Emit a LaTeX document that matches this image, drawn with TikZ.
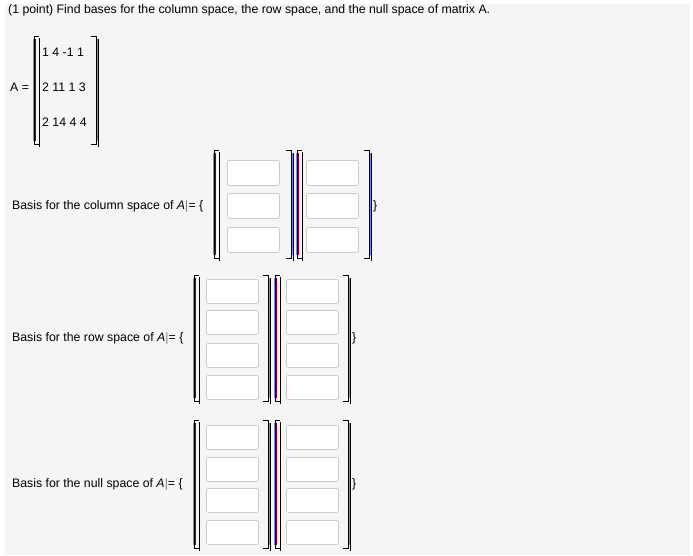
\documentclass[tikz,border=0pt]{standalone}
\usepackage{fontspec}
\setmainfont{Liberation Sans}
\begin{document}
\begin{tikzpicture}[x=1pt,y=-1pt,
  txt/.style={font=\fontsize{12.3}{14}\selectfont,inner sep=0pt,anchor=west},
  ansbox/.style={draw=black!20,fill=white,rounded corners=2pt,line width=0.8pt},
  brk/.style={line width=0.8pt,black}]
\useasboundingbox (0,0) rectangle (693,555);
\fill[white] (0,0) rectangle (693,555);
\fill[black!4] (5,4) rectangle (690,555);
\newcommand{\lbr}[3]{% x, ytop, ybot
  \draw[brk] (#1+5,#2) -- (#1,#2) -- (#1,#3) -- (#1+5,#3);
  \draw[red!50!black,line width=0.4pt] (#1+1,#2+3) -- (#1+1,#3-3);
  \draw[blue!50,line width=0.4pt] (#1-1,#2+3) -- (#1-1,#3-3);
  \draw[black,line width=0.5pt] (#1+5,#2+2) -- (#1+5,#3+3);}
\newcommand{\rbr}[3]{%
  \draw[brk] (#1-5,#2) -- (#1,#2) -- (#1,#3) -- (#1-5,#3);
  \draw[blue!50,line width=0.4pt] (#1+1.2,#2+3) -- (#1+1.2,#3-3);
  \draw[black,line width=0.5pt] (#1+2.5,#2+3) -- (#1+2.5,#3+3);}
\node[txt] (title) at (8,10) {(1 point) Find bases for the column space, the row space, and the null space of matrix A.};
% matrix A
\node[txt] (Aeq) at (10,87) {A =};
\lbr{34}{36}{144}
\rbr{96}{36}{144}
\node[txt] (r1) at (42,52) {1 4 -1 1};
\node[txt] (r2) at (42,87) {2 11 1 3};
\node[txt] (r3) at (42,122) {2 14 4 4};
% column space
\node[txt] (c) at (12,206) {Basis for the column space of \textit{A}$|$= \{};
\lbr{214}{150}{258}\rbr{291}{150}{258}
\lbr{297}{150}{258}\rbr{369}{150}{258}
\node[txt] (cb) at (373,206) {\}};
\foreach \y [count=\i] in {160,193,227}{
  \node[ansbox,minimum width=52,minimum height=25,anchor=north west] (ca\i) at (227,\y) {};
  \node[ansbox,minimum width=52,minimum height=25,anchor=north west] (cb\i) at (306,\y) {};}
% row space
\node[txt] (r) at (12,338) {Basis for the row space of \textit{A}$|$= \{};
\lbr{194}{275}{401}\rbr{268}{275}{401}
\lbr{275}{275}{401}\rbr{348}{275}{401}
\node[txt] (rb) at (352,338) {\}};
\foreach \y [count=\i] in {279,310,343,375}{
  \node[ansbox,minimum width=52,minimum height=24,anchor=north west] (ra\i) at (206,\y) {};
  \node[ansbox,minimum width=52,minimum height=24,anchor=north west] (rb\i) at (286,\y) {};}
% null space
\node[txt] (n) at (12,484) {Basis for the null space of \textit{A}$|$= \{};
\lbr{194}{420}{548}\rbr{268}{420}{548}
\lbr{275}{420}{548}\rbr{348}{420}{548}
\node[txt] (nb) at (352,484) {\}};
\foreach \y [count=\i] in {425,457,488,520}{
  \node[ansbox,minimum width=52,minimum height=24,anchor=north west] (na\i) at (206,\y) {};
  \node[ansbox,minimum width=52,minimum height=24,anchor=north west] (nb\i) at (286,\y) {};}
\end{tikzpicture}
\end{document}
